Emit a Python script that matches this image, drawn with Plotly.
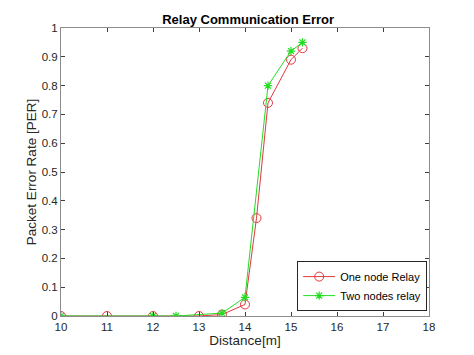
import plotly.graph_objects as go

one_x = [10, 11, 12, 13, 13.5, 14, 14.25, 14.5, 15, 15.25]
one_y = [0, 0, 0, 0, 0.005, 0.04, 0.34, 0.74, 0.89, 0.93]
two_x = [10, 12, 12.5, 13.5, 14, 14.5, 15, 15.25]
two_y = [0, 0, 0, 0.01, 0.065, 0.80, 0.92, 0.95]

x_ticks = list(range(10, 19))
y_ticks = [0, 0.1, 0.2, 0.3, 0.4, 0.5, 0.6, 0.7, 0.8, 0.9, 1]

# page body has an 8px margin, so the figure is drawn from (8, 8)
W, H = 466, 347
L, T = 61 - 8, 28 - 8
R = W - (429 - 8)
B = H - (316 - 8)

fig = go.Figure()
fig.add_trace(go.Scatter(
    x=one_x, y=one_y, mode="lines+markers", name="One node Relay",
    line=dict(color="#e0393e", width=1),
    marker=dict(symbol="circle-open", size=9, color="#e0393e", line=dict(width=1)),
))
fig.add_trace(go.Scatter(
    x=two_x, y=two_y, mode="lines+markers", name="Two nodes relay",
    line=dict(color="#22dd22", width=1),
    marker=dict(symbol="asterisk-open", size=7, color="#22dd22", line=dict(width=1.2, color="#22dd22")),
))

axis_common = dict(
    showgrid=False, zeroline=False, showline=True, mirror="ticks",
    linecolor="#8c8c8c", linewidth=1, ticks="inside", ticklen=4,
    tickcolor="#404040", tickfont=dict(size=11.5, color="#262626"),
    automargin=False,
)

fig.update_layout(
    width=W, height=H,
    margin=dict(l=L, r=R, t=T, b=B, pad=0),
    paper_bgcolor="white", plot_bgcolor="white",
    font=dict(family="Liberation Sans, Arial, sans-serif", color="#262626"),
    title=dict(text="<b>Relay Communication Error</b>", x=(L + (W - R)) / 2 / W, xref="paper",
               xanchor="center", y=1 - 11 / H, yanchor="middle",
               font=dict(size=13, color="#000000")),
    xaxis=dict(range=[10, 18], tickvals=x_ticks,
               title=dict(text="Distance[m]", font=dict(size=13.5), standoff=3),
               **axis_common),
    yaxis=dict(range=[0, 1], tickvals=y_ticks, ticktext=[f"{v:g}" for v in y_ticks],
               title=dict(text="Packet Error Rate [PER]", font=dict(size=13.5), standoff=1),
               **axis_common),
    legend=dict(x=0.995, y=0.017, xanchor="right", yanchor="bottom",
                bordercolor="#262626", borderwidth=1, bgcolor="white",
                font=dict(size=11, color="#000000"), tracegroupgap=0,
                itemwidth=32),
    showlegend=True,
)

fig.write_html("out.html")
